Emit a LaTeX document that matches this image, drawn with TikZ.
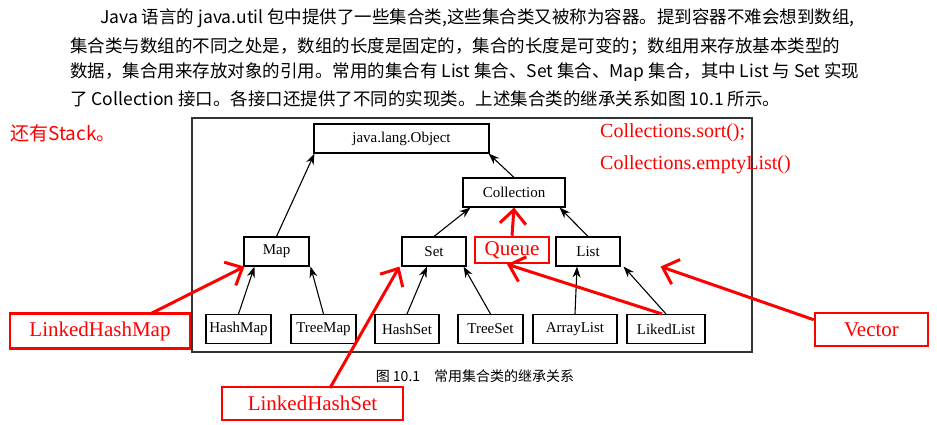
\documentclass[tikz,border=0pt]{standalone}
\usepackage{fontspec}
\setmainfont{Liberation Serif}
\newfontfamily\cjk{Noto Sans CJK SC}
\usetikzlibrary{arrows.meta}
\tikzset{
 bx/.style={draw,line width=1.1pt,minimum height=29pt,inner sep=0pt,font=\fontsize{15}{17}\selectfont},
 bk/.style={-{Stealth[length=11pt,width=8pt]},line width=1.1pt},
 rbox/.style={draw=red,line width=2.5pt,text=red,inner sep=0pt,font=\fontsize{21}{23}\selectfont},
 rtxt/.style={text=red,inner sep=0pt,font=\fontsize{20}{22}\selectfont},
 ra/.style={draw=red,line width=3pt,-{Straight Barb[length=14pt,width=26pt,line width=3pt]}},
 para/.style={anchor=west,inner sep=0pt,font=\cjk\fontsize{17.5}{20}\selectfont}
}
\begin{document}
\begin{tikzpicture}[x=1pt,y=-1pt]
\useasboundingbox[fill=white] (0,0) rectangle (937,424);
\node[para] (p1) at (100,18) {Java 语言的 java.util 包中提供了一些集合类,这些集合类又被称为容器。提到容器不难会想到数组,};
\node[para] (p2) at (70,46) {集合类与数组的不同之处是，数组的长度是固定的，集合的长度是可变的；数组用来存放基本类型的};
\node[para] (p3) at (70,72) {数据，集合用来存放对象的引用。常用的集合有 List 集合、Set 集合、Map 集合，其中 List 与 Set 实现};
\node[para] (p4) at (70,99) {了 Collection 接口。各接口还提供了不同的实现类。上述集合类的继承关系如图 10.1 所示。};
\draw[line width=1.1pt,draw=black!80] (192,118) rectangle (752,352);
\node[bx,minimum width=175pt] (obj) at (401.5,138.5) {java.lang.Object};
\node[bx,minimum width=102pt] (col) at (514,192.5) {Collection};
\node[bx,minimum width=65pt] (map) at (276.5,251.5) {Map};
\node[bx,minimum width=64pt] (set) at (434,251.5) {Set};
\node[bx,minimum width=64pt] (list) at (588,251.5) {List};
\node[rbox,minimum width=74pt,minimum height=26pt] (queue) at (512,250) {Queue};
\node[bx,minimum width=65pt] (hm) at (238.5,329) {HashMap};
\node[bx,minimum width=65pt] (tm) at (323.5,329) {TreeMap};
\node[bx,minimum width=64pt] (hs) at (407,329) {HashSet};
\node[bx,minimum width=65pt] (ts) at (490.5,329) {TreeSet};
\node[bx,minimum width=84pt] (al) at (575,329) {ArrayList};
\node[bx,minimum width=78pt] (ll) at (666,329) {LikedList};
\draw[bk] (map.north) -- ([xshift=1pt]obj.south west);
\draw[bk] (col.north) -- ([xshift=-1pt]obj.south east);
\draw[bk] (set.north) -- ([xshift=8pt]col.south west);
\draw[bk] (list.north) -- ([xshift=-6pt]col.south east);
\draw[bk] (hm.north) -- ([xshift=11pt]map.south west);
\draw[bk] (tm.north) -- ([xshift=1pt]map.south east);
\draw[bk] (hs.north) -- ([xshift=-7pt]set.south);
\draw[bk] (ts.north) -- ([xshift=-3pt]set.south east);
\draw[bk] (al.north) -- ([xshift=-11pt]list.south);
\draw[bk] (ll.north) -- ([xshift=3pt]list.south east);
\node[font=\cjk\fontsize{14}{16}\selectfont,inner sep=0pt] (cap) at (475,376) {图 10.1\quad 常用集合类的继承关系};
\node[rtxt,anchor=west,font=\cjk\fontsize{19}{21}\selectfont] (stack) at (10,133) {还有Stack。};
\node[rtxt,anchor=west] (cs) at (600,133) {Collections.sort();};
\node[rtxt,anchor=west] (ce) at (600,165) {Collections.emptyList()};
\node[rbox,minimum width=180pt,minimum height=35pt] (lhm) at (100,331) {LinkedHashMap};
\node[rbox,minimum width=181pt,minimum height=33pt] (lhs) at (312.5,403.5) {LinkedHashSet};
\node[rbox,minimum width=113pt,minimum height=33pt] (vec) at (871.5,329.5) {Vector};
\coordinate (a1) at (150,314);
\draw[ra] (a1) -- ([xshift=1pt]map.south west);
\coordinate (a2) at (330,388);
\draw[ra] (a2) -- ([xshift=-2pt]set.south west);
\draw[ra] ([yshift=-8pt]vec.north west) -- ([xshift=40pt]list.south east);
\draw[ra] ([xshift=-4pt]ll.north) -- ([xshift=-5pt]queue.south);
\draw[ra] (queue.north) -- (col.south);
\end{tikzpicture}
\end{document}
